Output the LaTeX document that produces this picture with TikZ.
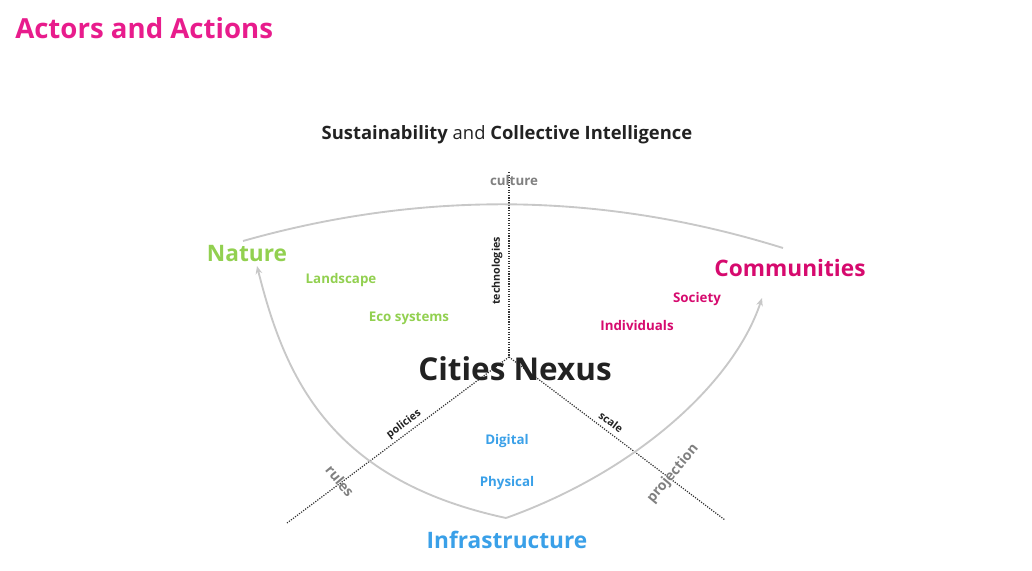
\documentclass[tikz,border=0pt]{standalone}
\usepackage{fontspec}
\setmainfont{Open Sans}
\usetikzlibrary{arrows.meta}
\definecolor{titlepink}{RGB}{232,28,140}
\definecolor{commred}{RGB}{214,10,110}
\definecolor{natgreen}{RGB}{146,208,80}
\definecolor{infblue}{RGB}{58,160,232}
\definecolor{darktext}{RGB}{34,34,34}
\definecolor{midgray}{RGB}{128,128,128}
\definecolor{curvegray}{RGB}{200,200,200}
\tikzset{
  axisline/.style={densely dotted, line width=0.9pt, black!80},
  flowcurve/.style={line width=1.4pt, curvegray},
  flowarrow/.style={flowcurve, -{Stealth[length=6pt, width=5pt]}},
  bigtag/.style={font=\bfseries\fontsize{17pt}{20pt}\selectfont, inner sep=0pt},
  smalltag/.style={font=\bfseries\fontsize{10pt}{12pt}\selectfont, inner sep=0pt},
  axistag/.style={font=\bfseries\fontsize{8pt}{10pt}\selectfont, inner sep=0pt, darktext},
  graytag/.style={font=\bfseries\fontsize{10.5pt}{12pt}\selectfont, inner sep=0pt, midgray}
}
\begin{document}
\begin{tikzpicture}[x=0.75pt, y=-0.75pt]
\useasboundingbox (0,0) rectangle (1032,571);
% anchor points
\coordinate (nx) at (509,357);
\coordinate (cul) at (509,172);
\coordinate (pol) at (287,523);
\coordinate (scl) at (725,520);
\coordinate (infra) at (506,518);
\coordinate (natarr) at (257,266);
\coordinate (comarr) at (762,298);
\coordinate (arcl) at (243,241);
\coordinate (arcr) at (783,248);
% axes
\draw[axisline] (cul) -- (nx);
\draw[axisline] (nx) -- (pol);
\draw[axisline] (nx) -- (scl);
% curves
\draw[flowcurve] (arcl) .. controls (423,190) and (603,192) .. (arcr);
\draw[flowarrow] (infra) .. controls (330,480) and (285,378) .. (natarr);
\draw[flowarrow] (infra) .. controls (640,470) and (735,380) .. (comarr);
% labels
\node[anchor=west, inner sep=0pt, titlepink, font=\bfseries\fontsize{20.7pt}{24pt}\selectfont] (title) at (15,28) {Actors and Actions};
\node[inner sep=0pt, darktext, font=\fontsize{13.8pt}{16pt}\selectfont] (sci) at (507,135) {\textbf{Sustainability} and \textbf{Collective Intelligence}};
\node[smalltag, midgray] (culture) at (514,180) {culture};
\node[axistag, rotate=90] (tech) at (497,271) {technologies};
\node[axistag, rotate=37] (policies) at (404,424) {policies};
\node[axistag, rotate=-37] (scale) at (611,422) {scale};
\node[graytag, rotate=-50] (rules) at (340,481) {rules};
\node[graytag, rotate=50] (projection) at (673,474) {projection};
\node[bigtag, natgreen] (nature) at (247,254) {Nature};
\node[smalltag, natgreen] (landscape) at (341,280) {Landscape};
\node[smalltag, natgreen] (eco) at (409,318) {Eco systems};
\node[bigtag, commred] (comm) at (790,268) {Communities};
\node[smalltag, commred] (society) at (697,299) {Society};
\node[smalltag, commred] (indiv) at (637,325) {Individuals};
\node[inner sep=0pt, darktext, font=\bfseries\fontsize{23.6pt}{26pt}\selectfont] (nexus) at (515,369) {Cities Nexus};
\node[smalltag, infblue] (digital) at (507,441) {Digital};
\node[smalltag, infblue] (physical) at (507,483) {Physical};
\node[bigtag, infblue] (infrastructure) at (507,540) {Infrastructure};
\end{tikzpicture}
\end{document}
